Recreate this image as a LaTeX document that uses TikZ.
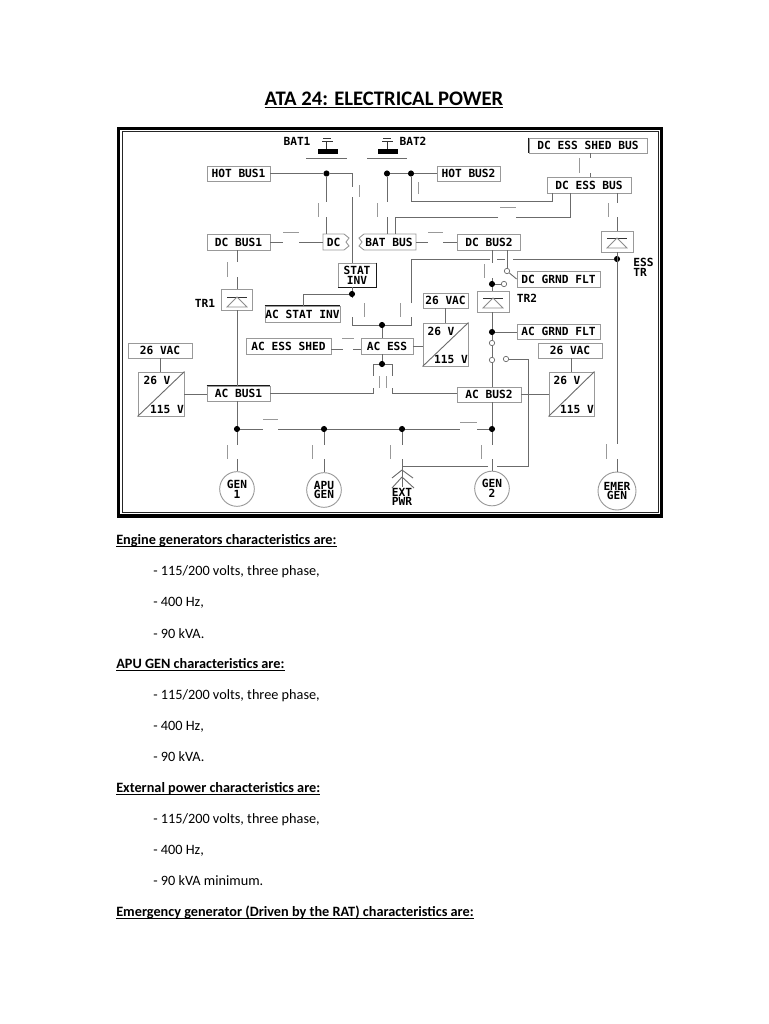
\documentclass[tikz,border=0pt]{standalone}
\usepackage{fontspec}
\setmainfont{Carlito}
\newfontfamily\dgmfont{DejaVu Sans Mono}
\tikzset{
  wire/.style={draw=black!58,line width=0.68pt},
  contact/.style={draw=black!40,line width=0.68pt},
  box/.style={draw=black!40,line width=0.68pt,fill=white,inner sep=0pt,align=center,font=\dgmfont\bfseries\fontsize{8.4}{7.3}\selectfont},
  bare/.style={inner sep=0pt,align=center,font=\dgmfont\bfseries\fontsize{8.4}{7.3}\selectfont},
  dot/.style={circle,fill=black,inner sep=0pt,minimum size=4.6pt},
  term/.style={circle,draw=black!60,fill=white,line width=0.5pt,inner sep=0pt,minimum size=4pt},
  gen/.style={box,circle,minimum size=26pt},
  page/.style={inner sep=0pt,anchor=base west,font=\fontsize{10.7}{12}\selectfont},
  head/.style={page,font=\bfseries\fontsize{10.7}{12}\selectfont}
}
\newcommand{\ulhead}[1]{\underline{\smash{#1}}}
\begin{document}
\begin{tikzpicture}[x=0.75pt,y=-0.75pt]
\useasboundingbox (0,0) rectangle (768,1024);
\fill [white] (0,0) rectangle (768,1024);
\node [inner sep=0pt,anchor=base,font=\bfseries\fontsize{15.5}{18}\selectfont] (title) at (384,105) {\ulhead{ATA 24: ELECTRICAL POWER}};
% frame
\fill [black] (116.5,127) rectangle (663,517.5);
\fill [white] (120,130) rectangle (659.5,514);
\draw [black!85,line width=0.6pt] (122,131.5) rectangle (658,512);
% boxes
\node [box,minimum width=47.25pt,minimum height=11.25pt] (hotbusa) at (238.5,173.5) {HOT BUS1};
\node [box,minimum width=47.25pt,minimum height=11.25pt] (hotbusb) at (468.5,173.5) {HOT BUS2};
\node [box,minimum width=88.5pt,minimum height=11.25pt] (shedbus) at (588,145.5) {DC ESS SHED BUS};
\node [box,minimum width=63pt,minimum height=12pt] (essbus) at (589,185) {DC ESS BUS};
\node [box,minimum width=47.25pt,minimum height=12pt] (dcbusa) at (238.5,242) {DC BUS1};
\node [bare,minimum width=15.75pt,minimum height=12pt] (dcpart) at (333.5,242) {DC};
\node [bare,minimum width=40.5pt,minimum height=12pt] (batbus) at (389,242) {BAT BUS};
\node [box,minimum width=47.25pt,minimum height=12pt] (dcbusb) at (489,242) {DC BUS2};
\node [box,minimum width=28.5pt,minimum height=18pt] (statinv) at (357,275) {STAT\\INV};
\node [box,minimum width=56.25pt,minimum height=12pt] (acstat) at (302.5,314) {AC STAT INV};
\node [box,minimum width=62.25pt,minimum height=12pt] (dcflt) at (558.5,279) {DC GRND FLT};
\node [box,minimum width=62.25pt,minimum height=11.25pt] (acflt) at (558.5,331.5) {AC GRND FLT};
\node [box,minimum width=63.75pt,minimum height=12pt] (acshed) at (288.5,346) {AC ESS SHED};
\node [box,minimum width=39pt,minimum height=12pt] (acess) at (387,346) {AC ESS};
\node [box,minimum width=47.25pt,minimum height=11.25pt] (acbusa) at (238.5,393.5) {AC BUS1};
\node [box,minimum width=48pt,minimum height=11.25pt] (acbusb) at (489,394.5) {AC BUS2};
\node [box,minimum width=48pt,minimum height=11.25pt] (vaca) at (160,350.5) {26 VAC};
\node [box,minimum width=33.75pt,minimum height=11.25pt] (vacb) at (445.5,300.5) {26 VAC};
\node [box,minimum width=48pt,minimum height=11.25pt] (vacc) at (570,350.5) {26 VAC};
% darker edges
\draw [black!90,line width=0.6pt] (statinv.north east) -- (statinv.south east) -- (statinv.south west);
\draw [black!90,line width=0.6pt] (acstat.north west) -- (acstat.north east);
\draw [black!90,line width=0.6pt] (acbusa.north west) -- (acbusa.north east);
\draw [black!90,line width=0.6pt] (shedbus.north west) -- (shedbus.south west);
% broken bus ends
\draw [contact] (344,234) -- (323,234) -- (323,250) -- (344,250) -- (349,246) -- (346,242) -- (349,238) -- (344,234);
\draw [contact] (364,234) -- (416,234) -- (416,250) -- (364,250) -- (359,246) -- (362,242) -- (359,238) -- (364,234);
% transformers
\node [box,minimum width=34.5pt,minimum height=33pt] (xfma) at (161,394) {};
\node [box,minimum width=33.75pt,minimum height=32.25pt] (xfmb) at (445.5,344.5) {};
\node [box,minimum width=33.75pt,minimum height=33pt] (xfmc) at (571.5,394) {};
\draw [wire] (xfma.south west) -- (xfma.north east);
\draw [wire] (xfmb.south west) -- (xfmb.north east);
\draw [wire] (xfmc.south west) -- (xfmc.north east);
\node [bare] (xfmatop) at (157,380) {26 V};
\node [bare] (xfmalow) at (167,409) {115 V};
\node [bare] (xfmbtop) at (441,331) {26 V};
\node [bare] (xfmblow) at (451,359) {115 V};
\node [bare] (xfmctop) at (567,380) {26 V};
\node [bare] (xfmclow) at (577,409) {115 V};
% rectifiers
\node [box,minimum width=23.25pt,minimum height=15.75pt] (tra) at (236.5,299.5) {};
\node [box,minimum width=24pt,minimum height=15.75pt] (trb) at (493,301.5) {};
\node [box,minimum width=24pt,minimum height=15.75pt] (esstr) at (617,241.5) {};
\draw [black!80,line width=0.6pt] (227,297) -- (247,297);
\draw [black!45,line width=0.6pt] (237,297) -- (227,307) -- (247,307) -- cycle;
\draw [black!80,line width=0.6pt] (483,298) -- (503,298);
\draw [black!45,line width=0.6pt] (493,298) -- (483,308) -- (503,308) -- cycle;
\draw [black!80,line width=0.6pt] (607,238) -- (627,238);
\draw [black!45,line width=0.6pt] (617,238) -- (607,248) -- (627,248) -- cycle;
% labels
\node [bare] (batalab) at (297,141) {BAT1};
\node [bare] (batblab) at (413,141) {BAT2};
\node [bare] (tralab) at (205,303) {TR1};
\node [bare] (trblab) at (527,298) {TR2};
\node [bare,anchor=west,align=left] (esslab) at (633,267.5) {ESS\\TR};
\node [bare] (extlab) at (402,497) {EXT\\PWR};
% generators
\node [gen] (gena) at (237,489) {GEN\\1};
\node [gen] (apu) at (324,490) {APU\\GEN};
\node [gen] (genb) at (492,488.5) {GEN\\2};
\node [gen,minimum size=28.5pt] (emer) at (617,491) {EMER\\GEN};
% batteries
\draw [black!80,line width=0.6pt] (323,138) -- (331,138);
\draw [black!80,line width=0.6pt] (322,141) -- (333,141);
\draw [black!80,line width=0.6pt] (326.5,141) -- (326.5,149);
\fill [black] (318,149) rectangle (338,154);
\draw [wire] (306,158) -- (347,158);
\draw [black!80,line width=0.6pt] (383,138) -- (391,138);
\draw [black!80,line width=0.6pt] (382,141) -- (393,141);
\draw [black!80,line width=0.6pt] (387,141) -- (387,149);
\fill [black] (378,149) rectangle (398,154);
\draw [wire] (367,158) -- (407,158);
% junctions
\node [dot] (jbata) at (326.5,173.5) {};
\node [dot] (jbatb) at (387,173.5) {};
\node [dot] (jhotb) at (411,173.5) {};
\node [dot] (jdcb) at (492,284) {};
\node [dot] (jess) at (617,259) {};
\node [dot] (jinv) at (352,294) {};
\node [dot] (jacess) at (382,325) {};
\node [dot] (jshed) at (382,364) {};
\node [dot] (jgnd) at (492,332) {};
\node [dot] (jgena) at (237,429) {};
\node [dot] (japu) at (324,429) {};
\node [dot] (jext) at (402,429) {};
\node [dot] (jgenb) at (492,429) {};
\node [term] (tdcflt) at (507,271) {};
\node [term] (tdcb) at (504,284) {};
\node [term] (tgnda) at (492,343) {};
\node [term] (tgndb) at (492,360) {};
\node [term] (text) at (506,359) {};
% wire ends at the open contacts
\coordinate (ca) at (326.5,202);
\coordinate (cb) at (326.5,217);
\coordinate (cc) at (387,202);
\coordinate (cd) at (387,217);
\coordinate (ce) at (352,187);
\coordinate (cf) at (352,197);
\coordinate (cg) at (283,242);
\coordinate (ch) at (299,242);
\coordinate (ci) at (428,242);
\coordinate (cj) at (443,242);
\coordinate (ck) at (237,262);
\coordinate (cl) at (237,277);
\coordinate (cm) at (352,298);
\coordinate (cn) at (352,317);
\coordinate (co) at (411,303);
\coordinate (cp) at (411,317);
\coordinate (cq) at (492,263);
\coordinate (cr) at (343,349);
\coordinate (cs) at (353,349);
\coordinate (ct) at (373,376);
\coordinate (cu) at (373,388);
\coordinate (cv) at (392,376);
\coordinate (cw) at (392,388);
\coordinate (cx) at (263,429);
\coordinate (cy) at (278,429);
\coordinate (cz) at (460,429);
\coordinate (da) at (477,429);
\coordinate (db) at (237,445);
\coordinate (dc) at (237,459);
\coordinate (dd) at (324,445);
\coordinate (de) at (324,459);
\coordinate (df) at (402,445);
\coordinate (dg) at (402,459);
\coordinate (dh) at (492,445);
\coordinate (di) at (492,459);
\coordinate (dj) at (617,444);
\coordinate (dk) at (617,459);
\coordinate (dl) at (617,203);
\coordinate (dm) at (617,217);
\coordinate (dn) at (590,158);
\coordinate (dp) at (590,173);
\coordinate (dq) at (516,217);
\coordinate (dr) at (498,217);
\coordinate (ds) at (497,466);
\coordinate (dt) at (488,466);
\coordinate (du) at (402,487);
\coordinate (dv) at (402,466);
\coordinate (dw) at (490,259);
\coordinate (dx) at (497,259);
\coordinate (dy) at (505,259);
\coordinate (dz) at (513,259);
\coordinate (dba) at (492,278);
\coordinate (ea) at (373,393);
\coordinate (eb) at (392,393);
\coordinate (ec) at (507,250);
\coordinate (ed) at (352,173.5);
\coordinate (ee) at (411,201);
\coordinate (ef) at (552,201);
\coordinate (eg) at (570,217);
\coordinate (eh) at (395,217);
\coordinate (ei) at (411,259);
\coordinate (ej) at (303,294);
\coordinate (ek) at (352,325);
\coordinate (el) at (411,325);
\coordinate (em) at (373,364);
\coordinate (en) at (392,364);
\coordinate (eo) at (528,359);
\coordinate (ep) at (528,466);
\coordinate (eq) at (237,386);
% connectors
\draw [wire] (hotbusa.east) -- (jbata);
\draw [wire] (jbata) -- (ca);
\draw [wire] (cb) -- (cb |- dcpart.north);
\draw [wire] (jbata) -- (ed) -- (ce);
\draw [wire] (cf) -- (cf |- statinv.north);
\draw [wire] (jbatb) -- (cc);
\draw [wire] (cd) -- (cd |- batbus.north);
\draw [wire] (jbatb) -- (jhotb);
\draw [wire] (jhotb) -- (hotbusb.west);
\draw [wire] (jhotb) -- (ee) -- (ef) -- (ef |- essbus.south);
\draw [wire] (eg |- essbus.south) -- (eg) -- (dq);
\draw [wire] (dr) -- (eh) -- (eh |- batbus.north);
\draw [wire] (shedbus.south -| dn) -- (dn);
\draw [wire] (dp) -- (dp |- essbus.north);
\draw [wire] (dl |- essbus.south) -- (dl);
\draw [wire] (dm) -- (esstr.north);
\draw [wire] (esstr.south) -- (dj);
\draw [wire] (dk) -- (emer.north);
\draw [wire] (dcbusa.east) -- (cg);
\draw [wire] (ch) -- (ch -| dcpart.west);
\draw [wire] (batbus.east) -- (ci);
\draw [wire] (cj) -- (dcbusb.west);
\draw [wire] (ck |- dcbusa.south) -- (ck);
\draw [wire] (cl) -- (cl |- tra.north);
\draw [wire] (eq |- tra.south) -- (eq);
\draw [wire] (cq |- dcbusb.south) -- (cq);
\draw [wire] (dba) -- (jdcb);
\draw [wire] (jdcb) -- (tdcb);
\draw [wire] (jdcb) -- (jdcb |- trb.north);
\draw [wire] (ec) -- (tdcflt);
\draw [wire] (tdcflt) -- (dcflt.west);
\draw [wire] (co) -- (ei) -- (dw);
\draw [wire] (dx) -- (dy);
\draw [wire] (dz) -- (jess);
\draw [wire] (statinv.south -| jinv) -- (jinv);
\draw [wire] (jinv) -- (ej) -- (ej |- acstat.north);
\draw [wire] (jinv) -- (cm);
\draw [wire] (cn) -- (ek) -- (jacess);
\draw [wire] (jacess) -- (el) -- (cp);
\draw [wire] (jacess) -- (jacess |- acess.north);
\draw [wire] (acess.south -| jshed) -- (jshed);
\draw [wire] (jshed) -- (em) -- (ct);
\draw [wire] (jshed) -- (en) -- (cv);
\draw [wire] (cu) -- (ea) -- (ea -| acbusa.east);
\draw [wire] (cw) -- (eb) -- (eb -| acbusb.west);
\draw [wire] (cr -| acshed.east) -- (cr);
\draw [wire] (cs) -- (cs -| acess.west);
\draw [wire] (acess.east) -- (acess.east -| xfmb.west);
\draw [wire] (vaca.south) -- (vaca.south |- xfma.north);
\draw [wire] (vacb.south) -- (xfmb.north);
\draw [wire] (xfmc.north |- vacc.south) -- (xfmc.north);
\draw [wire] (xfma.east) -- (xfma.east -| acbusa.west);
\draw [wire] (acbusb.east) -- (acbusb.east -| xfmc.west);
\draw [wire] (jgnd |- trb.south) -- (jgnd);
\draw [wire] (jgnd) -- (jgnd -| acflt.west);
\draw [wire] (jgnd) -- (tgnda);
\draw [wire] (tgnda) -- (tgndb);
\draw [wire] (tgndb) -- (tgndb |- acbusb.north);
\draw [wire] (text) -- (eo) -- (ep) -- (ds);
\draw [wire] (dt) -- (dv);
\draw [wire] (jgenb |- acbusb.south) -- (jgenb);
\draw [wire] (jgena |- acbusa.south) -- (jgena);
\draw [wire] (jgena) -- (cx);
\draw [wire] (cy) -- (japu);
\draw [wire] (japu) -- (jext);
\draw [wire] (jext) -- (cz);
\draw [wire] (da) -- (jgenb);
\draw [wire] (jgena) -- (db);
\draw [wire] (dc) -- (gena.north);
\draw [wire] (japu) -- (dd);
\draw [wire] (de) -- (apu.north);
\draw [wire] (jext) -- (df);
\draw [wire] (dg) -- (du);
\draw [wire] (jgenb) -- (dh);
\draw [wire] (di) -- (genb.north);
% ext pwr plug
\draw [wire] (402,470) -- (392,478);
\draw [wire] (402,470) -- (413,478);
\draw [wire] (402,477) -- (392,488);
\draw [wire] (402,477) -- (414,488);
% open contact bars
\draw [contact] (318,203) -- (318,217);
\draw [contact] (377,203) -- (377,217);
\draw [contact] (359,185) -- (359,197);
\draw [contact] (283,232) -- (299,232);
\draw [contact] (428,232) -- (443,232);
\draw [contact] (227,262) -- (227,277);
\draw [contact] (364,303) -- (364,317);
\draw [contact] (400,303) -- (400,317);
\draw [contact] (484,264) -- (484,278);
\draw [contact] (342,338) -- (354,338);
\draw [contact] (379,376) -- (379,388);
\draw [contact] (386,376) -- (386,388);
\draw [contact] (263,419) -- (278,419);
\draw [contact] (460,422) -- (477,422);
\draw [contact] (227,445) -- (227,459);
\draw [contact] (312,445) -- (312,459);
\draw [contact] (390,445) -- (390,459);
\draw [contact] (481,445) -- (481,459);
\draw [contact] (606,444) -- (606,459);
\draw [contact] (608,203) -- (608,217);
\draw [contact] (579,158) -- (579,173);
\draw [contact] (418,182) -- (418,194);
\draw [contact] (500,207) -- (516,207);
% page text
\node [head] (heada) at (116,544) {\ulhead{Engine generators characteristics are:}};
\node [page] (ta) at (153,575) {- 115/200 volts, three phase,};
\node [page] (tb) at (153,606) {- 400 Hz,};
\node [page] (tc) at (153,638) {- 90 kVA.};
\node [head] (headb) at (116,668) {\ulhead{APU GEN characteristics are:}};
\node [page] (td) at (153,699) {- 115/200 volts, three phase,};
\node [page] (te) at (153,730) {- 400 Hz,};
\node [page] (tf) at (153,761) {- 90 kVA.};
\node [head] (headc) at (116,792) {\ulhead{External power characteristics are:}};
\node [page] (tg) at (153,823) {- 115/200 volts, three phase,};
\node [page] (th) at (153,854) {- 400 Hz,};
\node [page] (ti) at (153,885) {- 90 kVA minimum.};
\node [head] (headd) at (116,916) {\ulhead{Emergency generator (Driven by the RAT) characteristics are:}};
\end{tikzpicture}
\end{document}
